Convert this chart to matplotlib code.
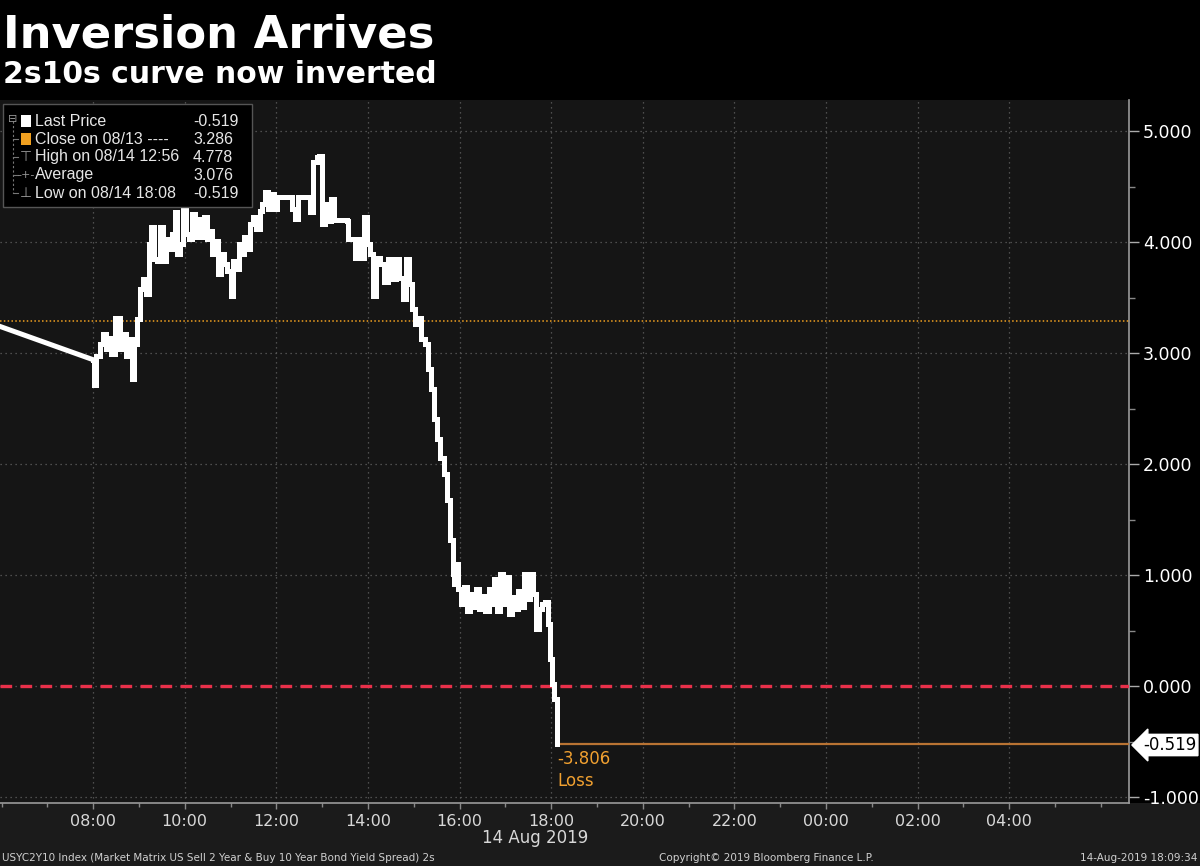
import pandas as pd
import matplotlib.pyplot as plt
import matplotlib.dates as mdates
from matplotlib.patches import Rectangle

# intraday 2s10s spread (bp), 14 Aug 2019
times = ['05:58', '08:00', '08:01', '08:04', '08:09', '08:13', '08:17', '08:20', '08:24', '08:28',
         '08:33', '08:35', '08:39', '08:43', '08:47', '08:51', '08:54', '08:58', '09:02', '09:05',
         '09:09', '09:13', '09:16', '09:20', '09:24', '09:28', '09:31', '09:35', '09:39', '09:43',
         '09:47', '09:50', '09:54', '09:58', '10:02', '10:06', '10:10', '10:14', '10:17', '10:21',
         '10:25', '10:29', '10:33', '10:36', '10:40', '10:44', '10:48', '10:52', '10:56', '11:00',
         '11:03', '11:07', '11:11', '11:15', '11:18', '11:22', '11:26', '11:30', '11:34', '11:38',
         '11:41', '11:45', '11:49', '11:53', '11:57', '12:01', '12:09', '12:16', '12:21', '12:25',
         '12:29', '12:37', '12:44', '12:48', '12:53', '12:56', '13:00', '13:04', '13:08', '13:12',
         '13:16', '13:24', '13:32', '13:34', '13:39', '13:43', '13:47', '13:51', '13:55', '13:59',
         '14:03', '14:06', '14:10', '14:16', '14:21', '14:26', '14:31', '14:37', '14:41', '14:46',
         '14:50', '14:54', '14:58', '15:02', '15:06', '15:10', '15:15', '15:19', '15:23', '15:27',
         '15:31', '15:35', '15:39', '15:43', '15:47', '15:51', '15:53', '15:55', '15:58', '16:02',
         '16:06', '16:10', '16:14', '16:18', '16:22', '16:26', '16:30', '16:34', '16:38', '16:41',
         '16:45', '16:49', '16:53', '16:57', '17:01', '17:05', '17:09', '17:13', '17:17', '17:21',
         '17:25', '17:29', '17:32', '17:36', '17:40', '17:44', '17:48', '17:52', '17:56', '17:59',
         '18:01', '18:04', '18:08']
spread = [3.24, 2.94, 2.71, 2.97, 3.08, 3.17, 3.04, 3.14, 2.99, 3.32,
          3.32, 3.04, 3.17, 2.97, 3.13, 2.77, 3.08, 3.31, 3.58, 3.67,
          3.53, 3.98, 4.14, 3.85, 3.83, 4.14, 3.83, 4.03, 3.94, 4.07,
          4.27, 3.89, 3.98, 4.30, 4.07, 4.03, 4.25, 4.05, 4.21, 4.05,
          4.23, 4.03, 4.10, 3.89, 4.01, 3.71, 3.89, 3.80, 3.74, 3.51,
          3.83, 3.76, 3.98, 3.89, 4.05, 3.94, 4.16, 4.23, 4.12, 4.28,
          4.34, 4.45, 4.30, 4.43, 4.30, 4.41, 4.41, 4.41, 4.30, 4.21,
          4.41, 4.41, 4.27, 4.72, 4.77, 4.778, 4.16, 4.34, 4.19, 4.39,
          4.20, 4.20, 4.19, 4.03, 4.03, 3.86, 4.03, 3.86, 4.23, 3.98,
          3.89, 3.51, 3.86, 3.80, 3.64, 3.85, 3.67, 3.85, 3.68, 3.49,
          3.85, 3.62, 3.40, 3.26, 3.32, 3.13, 3.08, 2.86, 2.68, 2.41,
          2.23, 2.05, 1.91, 1.68, 1.32, 1.01, 0.92, 1.10, 0.87, 0.74,
          0.89, 0.68, 0.83, 0.71, 0.87, 0.69, 0.81, 0.68, 0.87, 0.74,
          0.96, 0.68, 1.01, 0.74, 0.98, 0.65, 0.80, 0.69, 0.86, 0.71,
          1.01, 0.78, 1.01, 0.83, 0.51, 0.69, 0.74, 0.76, 0.56, 0.24,
          0.02, -0.12, -0.519]

close_prev = 3.286
last_price = -0.519
change = -3.806

legend_labels = ['Last Price', 'Close on 08/13 ----', 'High on 08/14 12:56', 'Average', 'Low on 08/14 18:08']
legend_values = ['-0.519', '3.286', '4.778', '3.076', '-0.519']

x = pd.to_datetime(['2019-08-14 ' + t for t in times])
x_start = pd.Timestamp('2019-08-14 05:58')
x_end = pd.Timestamp('2019-08-15 06:37')

W, H = 1200, 866
fig = plt.figure(figsize=(12, 8.66), dpi=100, facecolor='#1b1b1b')

def fx(px):
    return px / W

def fy(py):
    return 1 - py / H

# black header and right label strip (behind the axes)
fig.patches.append(Rectangle((0, fy(100)), 1, 1 - fy(100), transform=fig.transFigure,
                             facecolor='black', edgecolor='none', zorder=-5))
fig.patches.append(Rectangle((fx(1129), fy(803)), 1 - fx(1129), fy(100) - fy(803),
                             transform=fig.transFigure, facecolor='black', edgecolor='none', zorder=-5))

ax = fig.add_axes([0, fy(803), fx(1129), fy(100) - fy(803)])
ax.set_facecolor('#151515')

# overnight gap drawn as a straight segment, then tick-by-tick steps
ax.plot(x[:2], spread[:2], color='white', linewidth=3.6, zorder=5)
ax.plot(x[1:], spread[1:], color='white', linewidth=3.6, drawstyle='steps-post',
        solid_joinstyle='miter', zorder=5)
ax.axhline(close_prev, color='#f0a020', linewidth=1.1, linestyle=(0, (1, 1.5)), zorder=3)
ax.axhline(0, color='#e8304a', linewidth=2.4, linestyle=(0, (3.5, 2.5)), zorder=4)
ax.hlines(last_price, x[-1], x_end, color='#b87333', linewidth=1.6, zorder=4)

ax.text(x[-1], last_price - 0.06, f'{change:.3f}\nLoss', color='#f0a030', fontsize=12,
        va='top', ha='left', linespacing=1.25, zorder=6)

ax.set_xlim(x_start, x_end)
ax.set_ylim(-1.054, 5.28)

major = pd.date_range('2019-08-14 08:00', '2019-08-15 04:00', freq='2h')
ax.set_xticks(major)
ax.xaxis.set_major_formatter(mdates.DateFormatter('%H:%M'))
ax.xaxis.set_minor_locator(mdates.HourLocator())
ax.set_yticks([-1, 0, 1, 2, 3, 4, 5])
ax.set_yticks([-0.5, 0.5, 1.5, 2.5, 3.5, 4.5], minor=True)
ax.yaxis.set_major_formatter(plt.FuncFormatter(lambda v, p: f'{v:.3f}'))
ax.yaxis.tick_right()

ax.tick_params(axis='x', colors='#888888', labelcolor='#d8d8d8', labelsize=11.5,
               length=4, width=1, pad=4, which='major')
ax.tick_params(axis='x', colors='#888888', length=3, width=1, which='minor')
ax.tick_params(axis='y', colors='#aaaaaa', labelcolor='white', labelsize=12.5,
               length=7, width=1, pad=3, which='major')
ax.tick_params(axis='y', colors='#888888', length=4, width=1, which='minor')

ax.grid(True, which='major', color='#606060', linewidth=0.9, linestyle=(0, (1, 3)))

for side in ['top', 'left']:
    ax.spines[side].set_visible(False)
for side in ['right', 'bottom']:
    ax.spines[side].set_color('#9a9a9a')
    ax.spines[side].set_linewidth(1.2)

# last price tag on the right axis
fig.text(fx(1143), fy(745), f'{last_price:.3f}', color='black', fontsize=12, va='center', ha='left',
         bbox=dict(boxstyle='larrow,pad=0.1', facecolor='white', edgecolor='white'), zorder=10)

# legend box
fig.patches.append(Rectangle((fx(3), fy(207)), fx(249), fy(104) - fy(207), transform=fig.transFigure,
                             facecolor='black', edgecolor='#555555', linewidth=1, zorder=8))
rows = [121, 139, 157, 175, 193]
for py, lab, val in zip(rows, legend_labels, legend_values):
    fig.text(fx(35), fy(py), lab, color='#e6e6e6', fontsize=11.5, va='center', ha='left',
             family='Liberation Sans', zorder=9)
    fig.text(fx(193), fy(py), val, color='#e6e6e6', fontsize=11.5, va='center', ha='left',
             family='Liberation Sans', zorder=9)
fig.patches.append(Rectangle((fx(21), fy(127)), fx(10), fy(115) - fy(127), transform=fig.transFigure,
                             facecolor='white', edgecolor='none', zorder=9))
fig.patches.append(Rectangle((fx(21), fy(145)), fx(10), fy(133) - fy(145), transform=fig.transFigure,
                             facecolor='#f0a020', edgecolor='none', zorder=9))
fig.add_artist(plt.Line2D([fx(13), fx(13)], [fy(121), fy(193)], color='#777777', linewidth=0.8,
                          linestyle=(0, (2, 2)), zorder=9))
for py in rows[1:]:
    fig.add_artist(plt.Line2D([fx(13), fx(18)], [fy(py), fy(py)], color='#777777', linewidth=0.8, zorder=9))
fig.text(fx(26), fy(157), '⊤', color='#999999', fontsize=10, va='center', ha='center', zorder=9)
fig.text(fx(26), fy(175), '-+-', color='#999999', fontsize=8, va='center', ha='center', zorder=9)
fig.text(fx(26), fy(193), '⊥', color='#999999', fontsize=10, va='center', ha='center', zorder=9)
fig.text(fx(13), fy(119), '⊟', color='#999999', fontsize=8, va='center', ha='center', zorder=9)

# titles
fig.text(fx(3), fy(48), 'Inversion Arrives', color='white', fontsize=32.3, fontweight='bold',
         va='baseline', ha='left')
fig.text(fx(3), fy(83), '2s10s curve now inverted', color='white', fontsize=21.5, fontweight='bold',
         va='baseline', ha='left')

# date and footer
fig.text(fx(535), fy(838), '14 Aug 2019', color='#d8d8d8', fontsize=12, va='center', ha='center')
fig.text(fx(2), fy(858), 'USYC2Y10 Index (Market Matrix US Sell 2 Year & Buy 10 Year Bond Yield Spread) 2s',
         color='#d0d0d0', fontsize=7.5, va='center', ha='left')
fig.text(fx(766), fy(858), 'Copyright© 2019 Bloomberg Finance L.P.', color='#d0d0d0', fontsize=7.5,
         va='center', ha='center')
fig.text(fx(1197), fy(858), '14-Aug-2019 18:09:34', color='#d0d0d0', fontsize=7.5,
         va='center', ha='right')

fig.savefig('out.png', dpi=100, facecolor=fig.get_facecolor())
